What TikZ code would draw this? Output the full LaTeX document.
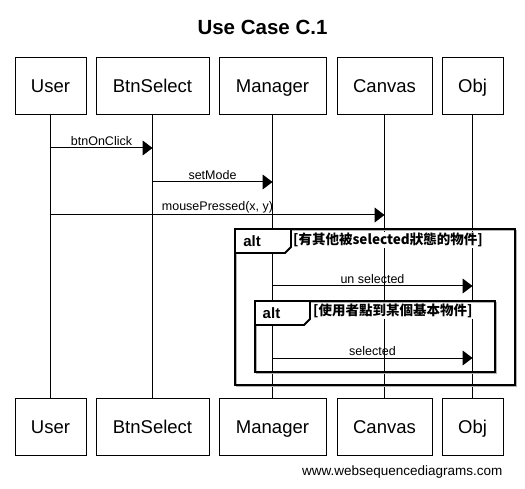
\documentclass[tikz,border=0pt]{standalone}
\usepackage{fontspec}
\setmainfont{Liberation Sans}
\newfontfamily\cjk{Noto Sans CJK TC}
\usetikzlibrary{arrows.meta}

\tikzset{
  actor/.style={draw,line width=1pt,minimum height=57pt,inner sep=0pt,text height=13.5pt,text depth=0.5pt,font=\fontsize{18.5}{20}\selectfont},
  msg/.style={-{Triangle[length=10pt,width=15pt]},line width=1pt},
  msglabel/.style={above,inner sep=1.5pt,font=\fontsize{12.5}{14}\selectfont},
  frame/.style={line width=1.8pt},
  framelabel/.style={font=\fontsize{15}{16}\bfseries\selectfont},
  cond/.style={anchor=west,fill=white,inner sep=1pt,font=\cjk\fontsize{13.5}{15}\bfseries\selectfont},
}

\begin{document}
\begin{tikzpicture}[x=1pt,y=-1pt]
  \useasboundingbox (0,0) rectangle (525,489);
  \node[font=\fontsize{20.5}{22}\bfseries\selectfont] (title) at (262.5,27) {Use Case C.1};

  % participants
  \node[actor,minimum width=71pt]  (userT)    at ( 50.5, 86.5) {User};
  \node[actor,minimum width=113pt] (btnT)     at (152.5, 86.5) {BtnSelect};
  \node[actor,minimum width=107pt] (managerT) at (272.5, 86.5) {Manager};
  \node[actor,minimum width=95pt]  (canvasT)  at (384.5, 86.5) {Canvas};
  \node[actor,minimum width=61pt]  (objT)     at (472.5, 86.5) {Obj};

  \node[actor,minimum width=71pt]  (userB)    at ( 50.5,426.5) {User};
  \node[actor,minimum width=113pt] (btnB)     at (152.5,426.5) {BtnSelect};
  \node[actor,minimum width=107pt] (managerB) at (272.5,426.5) {Manager};
  \node[actor,minimum width=95pt]  (canvasB)  at (384.5,426.5) {Canvas};
  \node[actor,minimum width=61pt]  (objB)     at (472.5,426.5) {Obj};

  % lifelines
  \draw[line width=1pt] (userT) -- (userB);
  \draw[line width=1pt] (btnT) -- (btnB);
  \draw[line width=1pt] (managerT) -- (managerB);
  \draw[line width=1pt] (canvasT) -- (canvasB);
  \draw[line width=1pt] (objT) -- (objB);

  % message ends
  \coordinate (user1) at (50.5,148);
  \coordinate (btn1) at (152.5,148);
  \coordinate (btn2) at (152.5,182);
  \coordinate (manager2) at (272.5,182);
  \coordinate (user3) at (50.5,215);
  \coordinate (canvas3) at (384.5,215);
  \coordinate (manager4) at (272.5,286);
  \coordinate (obj4) at (472.5,286);
  \coordinate (manager5) at (272.5,358);
  \coordinate (obj5) at (472.5,358);

  \draw[msg] (user1) -- node[msglabel] {btnOnClick} (btn1);
  \draw[msg] (btn2) -- node[msglabel] {setMode} (manager2);
  \draw[msg] (user3) -- node[msglabel] {mousePressed(x, y)} (canvas3);

  % outer alt
  \draw[frame,gray!60] (236.5,230.5) rectangle (516.5,386.5);
  \draw[frame] (235,229) rectangle (515,385);
  \draw[frame,fill=white] (235,229) -- (291,229) -- (291,247) -- (285,253) -- (235,253) -- cycle;
  \node[framelabel] (alt1) at (252,241.5) {alt};
  \node[cond] (cond1) at (292,240) {[有其他被selected狀態的物件]};

  \draw[msg] (manager4) -- node[msglabel] {un selected} (obj4);

  % inner alt
  \draw[frame,gray!60] (256.5,302.5) rectangle (496.5,373.5);
  \draw[frame] (255,301) rectangle (495,372);
  \draw[frame,fill=white] (255,301) -- (310,301) -- (310,319) -- (304,325) -- (255,325) -- cycle;
  \node[framelabel] (alt2) at (271.5,313.5) {alt};
  \node[cond] (cond2) at (312,311) {[使用者點到某個基本物件]};

  \draw[msg] (manager5) -- node[msglabel] {selected} (obj5);

  \node[anchor=east,font=\fontsize{13.5}{15}\selectfont] (site) at (506,472) {www.websequencediagrams.com};
\end{tikzpicture}
\end{document}
